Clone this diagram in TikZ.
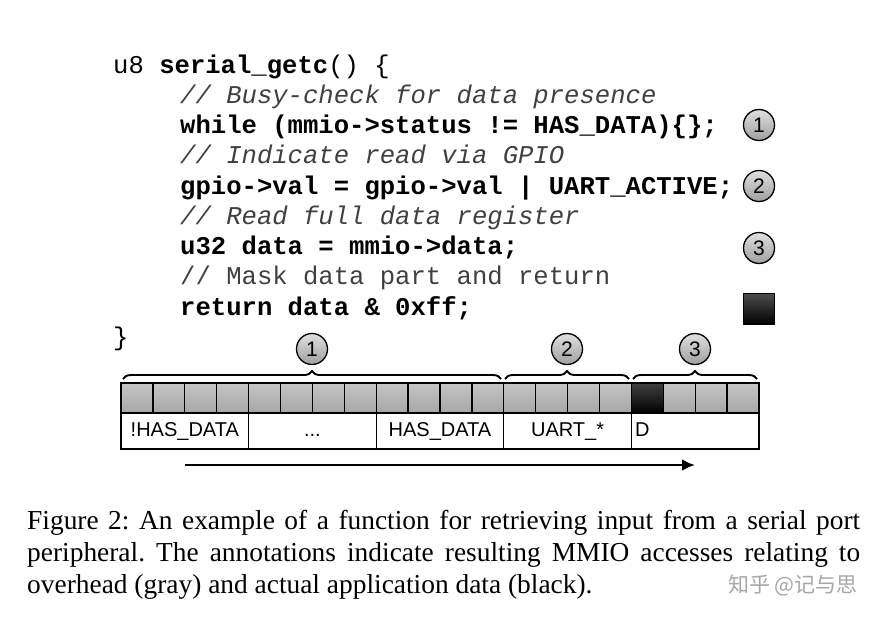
\documentclass[tikz,border=0pt]{standalone}
\usepackage{fontspec}
\setmainfont{Liberation Serif}
\setsansfont{Liberation Sans}
\setmonofont{Liberation Mono}
\newfontfamily\cjk{Noto Sans CJK SC}
\usetikzlibrary{decorations.pathreplacing,arrows.meta}
\frenchspacing
\begin{document}
\begin{tikzpicture}[x=1pt,y=-1pt,
  code/.style={anchor=base west,inner sep=0pt,font=\fontsize{25.6}{30}\ttfamily},
  num/.style={circle,draw,line width=1.3pt,minimum size=31pt,inner sep=0pt,top color=gray!25,bottom color=gray!75,font=\fontsize{21}{21}\sffamily},
  cell/.style={draw,line width=1.3pt,top color=gray!45,bottom color=gray!70},
  lab/.style={draw,line width=1.3pt,minimum height=36pt,text height=14pt,text depth=4pt,font=\fontsize{20}{20}\sffamily,inner sep=0pt},
  brc/.style={decorate,decoration={brace,amplitude=8pt},line width=1.9pt}]
\useasboundingbox (0,0) rectangle (883,621);
\node[code] (l1) at (113,73) {u8 \textbf{serial\_getc}() \{};
\node[code,text=black!75] (l2) at (180,103) {\textit{// Busy-check for data presence}};
\node[code] (l3) at (180,133) {\textbf{while (mmio->status != HAS\_DATA)\{\};}};
\node[code,text=black!75] (l4) at (180,163) {\textit{// Indicate read via GPIO}};
\node[code] (l5) at (180,194) {\textbf{gpio->val = gpio->val | UART\_ACTIVE;}};
\node[code,text=black!75] (l6) at (180,224) {\textit{// Read full data register}};
\node[code] (l7) at (180,254) {\textbf{u32 data = mmio->data;}};
\node[code,text=black!75] (l8) at (180,284) {// Mask data part and return};
\node[code] (l9) at (180,315) {\textbf{return data \& 0xff;}};
\node[code] (l10) at (113,345) {\}};
\node[num] (c1) at (759,125) {1};
\node[num] (c2) at (759,186) {2};
\node[num] (c3) at (759,248) {3};
\node[draw,line width=1.3pt,minimum size=31pt,top color=black!70,bottom color=black] (sq) at (759,309) {};
\foreach \i in {0,...,19} {
  \pgfmathsetmacro\xa{121+\i*31.9}
  \pgfmathsetmacro\xb{121+(\i+1)*31.9}
  \ifnum\i=16
    \draw[line width=1.3pt,top color=black!75,bottom color=black] (\xa,383) rectangle (\xb,413);
  \else
    \draw[cell] (\xa,383) rectangle (\xb,413);
  \fi
}
\node[lab,minimum width=127.6pt] (b1) at (184.8,431) {!HAS\_DATA};
\node[lab,minimum width=127.6pt] (b2) at (312.4,431) {...};
\node[lab,minimum width=127.6pt] (b3) at (440,431) {HAS\_DATA};
\node[lab,minimum width=127.6pt] (b4) at (567.6,431) {UART\_*};
\node[lab,minimum width=127.6pt,text width=120pt,align=left] (b5) at (695.2,431) {D};
\coordinate (a1) at (123,379); \coordinate (a2) at (501,379);
\coordinate (a3) at (505,379); \coordinate (a4) at (629,379);
\coordinate (a5) at (633,379); \coordinate (a6) at (757,379);
\draw[brc] (a1) -- (a2);
\draw[brc] (a3) -- (a4);
\draw[brc] (a5) -- (a6);
\node[num] (d1) at (312,349) {1};
\node[num] (d2) at (567,349) {2};
\node[num] (d3) at (695,349) {3};
\coordinate (s) at (185,465); \coordinate (e) at (695,465);
\draw[line width=2.8pt,-{Latex[length=13pt,width=12pt]}] (s) -- (e);
\node[anchor=base west,inner sep=0pt,font=\fontsize{27.4}{28}\selectfont] (t1) at (27,529) {\makebox[833pt][s]{Figure 2: An example of a function for retrieving input from a serial port}};
\node[anchor=base west,inner sep=0pt,font=\fontsize{27.4}{28}\selectfont] (t2) at (27,561) {\makebox[833pt][s]{peripheral. The annotations indicate resulting MMIO accesses relating to}};
\node[anchor=base west,inner sep=0pt,font=\fontsize{27.4}{28}\selectfont] (t3) at (27,593) {overhead (gray) and actual application data (black).};
\node[anchor=base east,inner sep=0pt,text=gray!70,font=\cjk\fontsize{21}{24}\selectfont] (wm) at (858,592) {知乎 @记与思};
\end{tikzpicture}
\end{document}
